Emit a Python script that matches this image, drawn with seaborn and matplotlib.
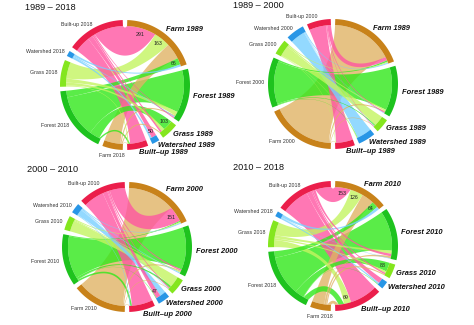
import numpy as np
import matplotlib
matplotlib.use("Agg")
import matplotlib.pyplot as plt
from matplotlib.patches import Polygon
import seaborn as sns

# Land-cover classes, in the order they are laid out around each circle
CATEGORIES = ["Farm", "Forest", "Grass", "Watershed", "Built-up"]
RIGHT_NAMES = ["Farm", "Forest", "Grass", "Watershed", "Built\u2013up"]

# Transition tables: rows = earlier year, columns = later year
FLOW_1989_2018 = [[160, 66, 163, 20, 291],
                  [10, 420, 40, 10, 10],
                  [10, 103, 30, 0, 17],
                  [0, 0, 0, 20, 50],
                  [5, 15, 10, 0, 160]]

FLOW_1989_2000 = [[620, 15, 10, 10, 35],
                  [10, 430, 15, 5, 10],
                  [5, 10, 105, 5, 5],
                  [0, 5, 5, 150, 0],
                  [5, 0, 5, 0, 170]]

FLOW_2000_2010 = [[470, 10, 10, 9, 151],
                  [10, 420, 10, 10, 15],
                  [5, 20, 110, 5, 10],
                  [0, 5, 0, 58, 47],
                  [5, 15, 0, 8, 207]]

FLOW_2010_2018 = [[120, 64, 126, 27, 153],
                  [20, 390, 30, 5, 25],
                  [10, 88, 18, 0, 14],
                  [0, 5, 0, 15, 50],
                  [35, 52, 69, 0, 274]]

# Flows whose size is printed on the chord (row, column)
LABELLED_1989_2018 = [(0, 4), (0, 2), (0, 1), (2, 1), (3, 4)]
LABELLED_1989_2000 = []
LABELLED_2000_2010 = [(0, 4), (3, 4)]
LABELLED_2010_2018 = [(0, 4), (0, 2), (0, 1), (2, 1), (4, 2)]

PERIODS = [("1989", "2018"), ("1989", "2000"), ("2000", "2010"), ("2010", "2018")]

RING_COLORS = ["#c8821a", "#1ec31e", "#84e61e", "#2896e6", "#eb1e4b"]
CHORD_COLORS = ["#e0b366", "#31e81a", "#c4f460", "#78d0ff", "#ff55a1"]

sns.set_theme(style="white")
plt.rcParams["font.family"] = ["Liberation Sans", "DejaVu Sans"]

ring_pal = sns.color_palette(RING_COLORS)
chord_pal = sns.color_palette(CHORD_COLORS)

GAP = 4.0        # degrees between neighbouring sectors
R_OUT = 65.0     # outer radius of the ring (px)
RING_W = 6.0     # ring thickness (px)
R_IN = R_OUT - RING_W


def pt(cx, cy, r, ang):
    t = np.radians(ang)
    return cx + r * np.sin(t), cy - r * np.cos(t)


def arc(cx, cy, r, a0, a1, n=40):
    t = np.linspace(a0, a1, max(2, int(abs(a1 - a0)) + n // 4))
    x, y = pt(cx, cy, r, t)
    return np.column_stack([x, y])


def bezier(cx, cy, r, a0, a1, n=50):
    p0 = np.array(pt(cx, cy, r, a0))
    p2 = np.array(pt(cx, cy, r, a1))
    d = (a1 - a0 + 180) % 360 - 180
    half = np.radians(abs(d) / 2)
    c = max(0.0, np.cos(half) - 1.4 * np.sin(half))
    ctrl = np.array(pt(cx, cy, r * c, a0 + d / 2))
    t = np.linspace(0, 1, n)[:, None]
    return (1 - t) ** 2 * p0 + 2 * (1 - t) * t * ctrl + t ** 2 * p2


def chord_diagram(ax, cx, cy, flow, years, labelled, title):
    flow = np.asarray(flow, float)
    src_tot = flow.sum(axis=1)
    dst_tot = flow.sum(axis=0)
    scale = (360 - 10 * GAP) / (src_tot.sum() + dst_tot.sum())

    # sector spans: earlier year clockwise from the top, later year clockwise from the bottom
    spans_src, spans_dst = [], []
    a = GAP / 2
    for v in src_tot:
        spans_src.append((a, a + v * scale))
        a += v * scale + GAP
    for v in dst_tot:
        spans_dst.append((a, a + v * scale))
        a += v * scale + GAP

    n = len(CATEGORIES)
    src_pos, dst_pos = {}, {}
    for i in range(n):
        a = spans_src[i][0]
        for j in sorted(range(n), key=lambda k: -flow[i, k]):
            w = flow[i, j] * scale
            src_pos[i, j] = (a, a + w)
            a += w
    for j in range(n):
        b = spans_dst[j][0]
        for i in reversed(range(n)):
            w = flow[i, j] * scale
            dst_pos[i, j] = (b, b + w)
            b += w

    # chords, coloured by the later-year class
    cells = [(i, j) for i in range(n) for j in range(n) if flow[i, j] > 0]
    cells.sort(key=lambda c: -flow[c])
    for i, j in cells:
        a1, a2 = src_pos[i, j]
        b1, b2 = dst_pos[i, j]
        verts = np.vstack([arc(cx, cy, R_IN, a1, a2),
                           bezier(cx, cy, R_IN, a2, b1),
                           arc(cx, cy, R_IN, b1, b2),
                           bezier(cx, cy, R_IN, b2, a1)])
        ax.add_patch(Polygon(verts, closed=True, facecolor=chord_pal[j],
                             edgecolor="none", alpha=0.8, zorder=2))

    # outer ring segments
    for k in range(n):
        for (s0, s1) in (spans_src[k], spans_dst[k]):
            outer = arc(cx, cy, R_OUT, s0, s1)
            inner = arc(cx, cy, R_IN, s1, s0)
            ax.add_patch(Polygon(np.vstack([outer, inner]), closed=True,
                                 facecolor=ring_pal[k], edgecolor="none", zorder=3))

    # sector names
    for k in range(n):
        s0, s1 = spans_src[k]
        m = (s0 + s1) / 2
        x, y = pt(cx, cy, R_OUT + 4, m)
        ax.text(x, y, f"{RIGHT_NAMES[k]} {years[0]}", ha="left", va="center",
                fontsize=5.4, fontweight="bold", fontstyle="italic",
                color="#111111", zorder=4)
        s0, s1 = spans_dst[k]
        m = (s0 + s1) / 2
        x, y = pt(cx, cy, R_OUT + 4, m)
        bottom = np.sin(np.radians(m)) > -0.3 and np.cos(np.radians(m)) < 0
        if bottom:
            y += 3
        ax.text(x, y, f"{CATEGORIES[k]} {years[1]}",
                ha="center" if bottom else "right", va="center",
                fontsize=3.8, color="#333333", zorder=4)

    # printed flow sizes, at the earlier-year end of the chord
    for i, j in labelled:
        a1, a2 = src_pos[i, j]
        x, y = pt(cx, cy, R_IN * 0.9, (a1 + a2) / 2)
        ax.text(x, y, f"{int(flow[i, j])}", ha="center", va="center",
                fontsize=3.8, color="#222222", zorder=4)

    ax.text(cx - 100, cy - 78, title, ha="left", va="center",
            fontsize=6.6, color="#111111", zorder=4)


fig = plt.figure(figsize=(4.74, 3.25), dpi=100)
ax = fig.add_axes([0, 0, 1, 1])
ax.set_xlim(0, 474)
ax.set_ylim(325, 0)
ax.axis("off")

flows = [FLOW_1989_2018, FLOW_1989_2000, FLOW_2000_2010, FLOW_2010_2018]
labels = [LABELLED_1989_2018, LABELLED_1989_2000, LABELLED_2000_2010, LABELLED_2010_2018]
centers = [(125, 85), (333, 84), (127, 247), (333, 246)]

for (cx, cy), flow, lab, years in zip(centers, flows, labels, PERIODS):
    chord_diagram(ax, cx, cy, flow, years, lab, f"{years[0]} \u2013 {years[1]}")

fig.savefig("out.png", dpi=100)
